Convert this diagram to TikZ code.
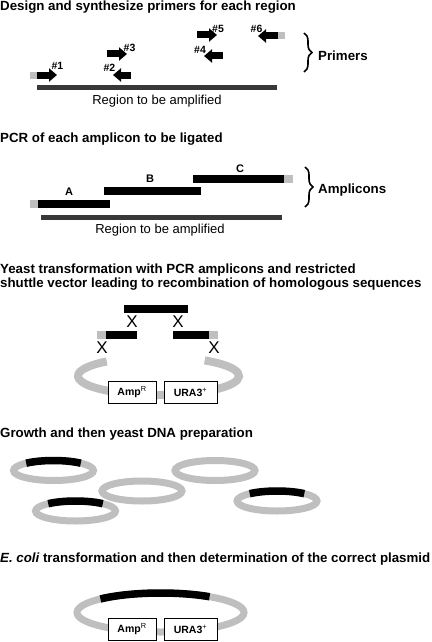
\documentclass[tikz,border=0pt]{standalone}
\usepackage{fontspec}
\setmainfont{Liberation Sans}
\usetikzlibrary{arrows.meta, decorations.pathreplacing}

\colorlet{vector}{black!25}
\colorlet{region}{black!78}

\tikzset{
	heading/.style = {anchor = base west, inner sep = 0, font = \bfseries\fontsize{13.3}{14}\selectfont},
	regiontext/.style = {anchor = base, inner sep = 0, font = \fontsize{13}{14}\selectfont},
	sidetext/.style = {anchor = base west, inner sep = 0, font = \bfseries\fontsize{13.3}{14}\selectfont},
	tag/.style = {anchor = base, inner sep = 0, font = \bfseries\fontsize{10.5}{12}\selectfont},
	letter/.style = {anchor = base, inner sep = 0, font = \bfseries\fontsize{11}{12}\selectfont},
	cross/.style = {inner sep = 0, font = \fontsize{17}{18}\selectfont},
	primer/.style = {line width = 7pt, -{Triangle[length = 8pt, width = 13pt]}},
	bar/.style = {region, line width = 5.5pt},
	amplicon/.style = {line width = 8pt},
	plasmid/.style = {vector, line width = 7pt},
	insert/.style = {black, line width = 7.5pt},
	marker/.style = {draw, fill = white, line width = 0.8pt, inner sep = 0, minimum height = 22pt, font = \bfseries\fontsize{10.5}{12}\selectfont},
	curly/.style = {decorate, decoration = {brace, amplitude = 8pt}, line width = 1.6pt}
}

\begin{document}
\begin{tikzpicture}[x = 1pt, y = -1pt]
	\useasboundingbox (0,0) rectangle (431,642);
	
	\node [heading] (design) at (0,11) {Design and synthesize primers for each region};
	\draw [bar] (37,87.5) -- (277,87.5);
	\node [regiontext] (region1) at (157,104) {Region to be amplified};
	
	\fill [vector] (30,71.5) rectangle (37,78.5);
	\draw [primer] (37,75) -- (57,75);
	\draw [primer] (131,75) -- (113,75);
	\draw [primer] (107,54) -- (127,54);
	\draw [primer] (223,56) -- (204,56);
	\draw [primer] (197,35) -- (217,35);
	\draw [primer] (278,36) -- (258,36);
	\fill [vector] (278,32.5) rectangle (285,39.5);
	
	\node [tag] (p1) at (57.5,70) {\#1};
	\node [tag] (p2) at (109.5,71.7) {\#2};
	\node [tag] (p3) at (129.5,51.7) {\#3};
	\node [tag] (p4) at (200,53.3) {\#4};
	\node [tag] (p5) at (218,32.3) {\#5};
	\node [tag] (p6) at (256.5,32.3) {\#6};
	
	\draw [curly] (304,33) -- (304,72);
	\node [sidetext] (primers) at (318,60) {Primers};
	
	\node [heading] (pcr) at (0,142.6) {PCR of each amplicon to be ligated};
	\draw [amplicon, vector] (30,204) -- (38,204);
	\draw [amplicon] (38,204) -- (110,204);
	\draw [amplicon] (104,191) -- (201,191);
	\draw [amplicon] (193,179) -- (284,179);
	\draw [amplicon, vector] (284,179) -- (293,179);
	\node [letter] (ampA) at (69,195.7) {A};
	\node [letter] (ampB) at (150,182.7) {B};
	\node [letter] (ampC) at (240,172.3) {C};
	\draw [bar] (41,217.5) -- (282,217.5);
	\node [regiontext] (region2) at (160,233.5) {Region to be amplified};
	
	\draw [curly] (305,167) -- (305,207);
	\node [sidetext] (amplicons) at (318,193.5) {Amplicons};
	
	\node [heading] (yeast) at (0,273.5) {Yeast transformation with PCR amplicons and restricted};
	\node [heading] (shuttle) at (0,287.5) {shuttle vector leading to recombination of homologous sequences};
	
	\draw [amplicon] (124,309) -- (188,309);
	\draw [amplicon, vector] (97,334.5) -- (106,334.5);
	\draw [amplicon] (106,334.5) -- (137,334.5);
	\draw [amplicon] (173,334.5) -- (209,334.5);
	\draw [amplicon, vector] (209,334.5) -- (218,334.5);
	\node [cross] (x1) at (132,322) {X};
	\node [cross] (x2) at (178,322) {X};
	\node [cross] (x3) at (102,348) {X};
	\node [cross] (x4) at (214,348) {X};
	
	\draw [plasmid, line width = 8pt] (158.5,376) ++(-55:80.5 and 19) arc [start angle = -55, end angle = 230, x radius = 80.5, y radius = 19];
	\node [marker, minimum width = 48pt] (amp1) at (132,392) {Amp\textsuperscript{\mdseries R}};
	\node [marker, minimum width = 53pt] (ura1) at (190.5,392) {URA3\textsuperscript{\mdseries +}};
	
	\node [heading] (growth) at (0,437.6) {Growth and then yeast DNA preparation};
	
	\foreach \cx/\cy in {53.5/470.5, 75.5/511, 142/491, 215/470.5, 277/501}
		\draw [plasmid] (\cx,\cy) ellipse [x radius = 40, y radius = 10];
	\foreach \cx/\cy in {53.5/470.5, 75.5/511, 277/501}
		\draw [insert] (\cx,\cy) ++(227:40 and 10) arc [start angle = 227, end angle = 313, x radius = 40, y radius = 10];
	
	\node [heading] (ecoli) at (0,562.6) {{\itshape E. coli} transformation and then determination of the correct plasmid};
	
	\draw [plasmid] (160.5,612.5) ellipse [x radius = 83.5, y radius = 19.5];
	\draw [insert] (160.5,612.5) ++(224:83.5 and 19.5) arc [start angle = 224, end angle = 306, x radius = 83.5, y radius = 19.5];
	\node [marker, minimum width = 48pt] (amp2) at (132,629) {Amp\textsuperscript{\mdseries R}};
	\node [marker, minimum width = 53pt] (ura2) at (190.5,629) {URA3\textsuperscript{\mdseries +}};
	
\end{tikzpicture}
\end{document}
